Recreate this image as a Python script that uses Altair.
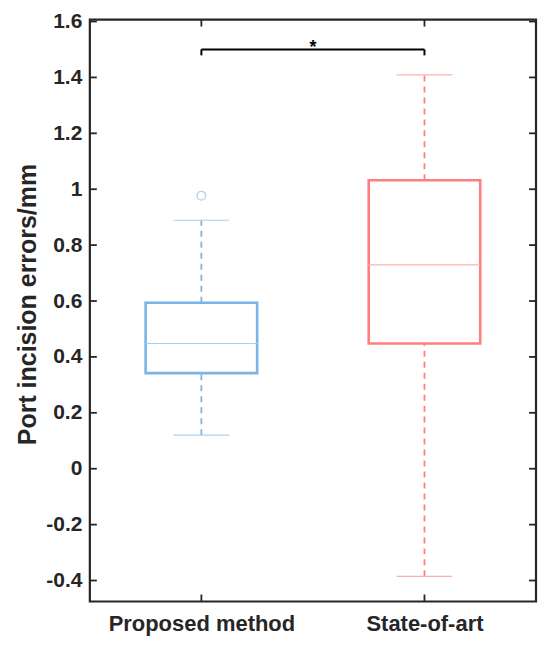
import altair as alt
import pandas as pd

# ---- data ----
categories = ["Proposed method", "State-of-art"]
positions = [1, 2]
lower_whisker = [0.12, -0.385]
q1 = [0.342, 0.448]
median = [0.448, 0.729]
q3 = [0.594, 1.032]
upper_whisker = [0.889, 1.409]
outlier_cat = ["Proposed method"]
outlier_pos = [1]
outlier_val = [0.977]
y_ticks = [-0.4, -0.2, 0, 0.2, 0.4, 0.6, 0.8, 1, 1.2, 1.4, 1.6]
sig_from, sig_to, sig_level, sig_label = 1, 2, 1.5, "*"

# ---- styles ----
box_colors = ["#7BB4E6", "#FF7F7F"]
light_colors = ["#A9D0F1", "#FFAFAF"]
axis_color = "#262626"
FONT = "Liberation Sans"
W, H = 447, 583
half_box, half_cap = 0.25, 0.125

df = pd.DataFrame({
    "cat": categories, "pos": positions, "lw": lower_whisker, "q1": q1,
    "med": median, "q3": q3, "uw": upper_whisker,
})
out_df = pd.DataFrame({"cat": outlier_cat, "pos": outlier_pos, "v": outlier_val})
tick_df = pd.DataFrame({"v": y_ticks})
sig_df = pd.DataFrame({"a": [sig_from], "b": [sig_to], "y": [sig_level],
                       "mid": [(sig_from + sig_to) / 2], "lab": [sig_label]})

label_expr = " : ".join(
    [f"datum.value == {p} ? '{c}'" for p, c in zip(positions[:-1], categories[:-1])]
    + [f"'{categories[-1]}'"]
)

xscale = alt.Scale(domain=[0.5, 2.5], nice=False, zero=False)
yscale = alt.Scale(domain=[-0.475, 1.607], nice=False, zero=False)

x_axis = alt.Axis(
    values=positions, labelExpr=label_expr, title=None, tickSize=0, domain=False,
    grid=False, labelFont=FONT, labelFontSize=22, labelFontWeight="bold",
    labelColor=axis_color, labelPadding=12, labelLimit=400,
)
y_axis = alt.Axis(
    values=y_ticks, labelExpr="'' + datum.value", tickSize=0, domain=False,
    grid=False, labelFont=FONT, labelFontSize=21, labelFontWeight="bold",
    labelColor=axis_color, labelPadding=8, labelOverlap=False,
    title="Port incision errors/mm", titleFont=FONT, titleFontSize=25,
    titleFontWeight="bold", titleColor=axis_color, titleX=-62, titleY=285,
    titleAngle=270, titleAlign="center", titleBaseline="middle",
)

box_scale = alt.Scale(domain=categories, range=box_colors)
light_scale = alt.Scale(domain=categories, range=light_colors)

base = alt.Chart(df).transform_calculate(
    xl=f"datum.pos - {half_box}", xr=f"datum.pos + {half_box}",
    cl=f"datum.pos - {half_cap}", cr=f"datum.pos + {half_cap}",
)

whisk_up = base.mark_rule(strokeWidth=1.8, strokeDash=[6, 5]).encode(
    x=alt.X("pos:Q", scale=xscale, axis=x_axis),
    y=alt.Y("q3:Q", scale=yscale, axis=y_axis),
    y2="uw:Q",
    color=alt.Color("cat:N", scale=box_scale, legend=None),
)
whisk_lo = base.mark_rule(strokeWidth=1.8, strokeDash=[6, 5]).encode(
    x="pos:Q", y="lw:Q", y2="q1:Q",
    color=alt.Color("cat:N", scale=box_scale, legend=None),
)
cap_up = base.mark_rule(strokeWidth=1.2).encode(
    x="cl:Q", x2="cr:Q", y="uw:Q",
    color=alt.Color("cat:N", scale=light_scale, legend=None),
)
cap_lo = base.mark_rule(strokeWidth=1.2).encode(
    x="cl:Q", x2="cr:Q", y="lw:Q",
    color=alt.Color("cat:N", scale=light_scale, legend=None),
)
box = base.mark_rect(fillOpacity=0, strokeWidth=2.6).encode(
    x="xl:Q", x2="xr:Q", y="q1:Q", y2="q3:Q",
    stroke=alt.Stroke("cat:N", scale=box_scale, legend=None),
)
med = base.mark_rule(strokeWidth=1.2).encode(
    x="xl:Q", x2="xr:Q", y="med:Q",
    color=alt.Color("cat:N", scale=light_scale, legend=None),
)
outl = alt.Chart(out_df).mark_point(shape="circle", size=75, strokeWidth=1.4, filled=False).encode(
    x="pos:Q", y="v:Q",
    color=alt.Color("cat:N", scale=alt.Scale(domain=categories, range=["#92C2EC", "#FF9999"]), legend=None),
)

# significance bracket
sig_line = alt.Chart(sig_df).mark_rule(color="black", strokeWidth=2).encode(
    x="a:Q", x2="b:Q", y="y:Q")
sig_l = alt.Chart(sig_df).mark_rule(color="black", strokeWidth=2).encode(
    x="a:Q", y="y:Q", y2=alt.Y2Datum(sig_level - 0.021))
sig_r = alt.Chart(sig_df).mark_rule(color="black", strokeWidth=2).encode(
    x="b:Q", y="y:Q", y2=alt.Y2Datum(sig_level - 0.021))
sig_t = alt.Chart(sig_df).mark_text(
    font=FONT, fontSize=18, fontWeight="bold", color="black", baseline="alphabetic", dy=4
).encode(x="mid:Q", y="y:Q", text="lab:N")

# inward tick marks on all four sides
tk = 7
left_t = alt.Chart(tick_df).mark_rule(color=axis_color, strokeWidth=1.8).encode(
    y="v:Q", x=alt.value(0), x2=alt.value(tk))
right_t = alt.Chart(tick_df).mark_rule(color=axis_color, strokeWidth=1.8).encode(
    y="v:Q", x=alt.value(W - tk), x2=alt.value(W))
top_t = alt.Chart(df).mark_rule(color=axis_color, strokeWidth=1.8).encode(
    x="pos:Q", y=alt.value(0), y2=alt.value(tk))
bot_t = alt.Chart(df).mark_rule(color=axis_color, strokeWidth=1.8).encode(
    x="pos:Q", y=alt.value(H - tk), y2=alt.value(H))

chart = alt.layer(
    whisk_up, whisk_lo, cap_up, cap_lo, box, med, outl,
    sig_line, sig_l, sig_r, sig_t, left_t, right_t, top_t, bot_t,
).resolve_scale(color="independent").properties(
    width=W, height=H,
    autosize=alt.AutoSizeParams(type="none"),
    padding={"left": 82, "top": 11, "right": 6, "bottom": 36},
).configure(
    background="white",
    view=alt.ViewConfig(stroke=axis_color, strokeWidth=2.2),
)

chart.save("out.html", embed_options={"renderer": "svg", "actions": False})
